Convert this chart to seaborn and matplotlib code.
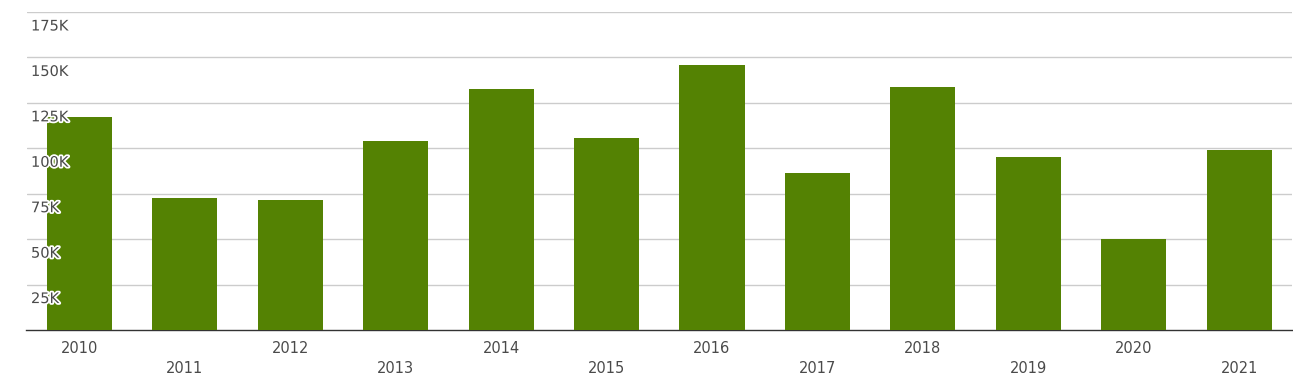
import matplotlib
matplotlib.use("Agg")
import matplotlib.pyplot as plt
import matplotlib.patheffects as pe
import matplotlib.transforms as mtransforms
import seaborn as sns
import pandas as pd

years = ["2010", "2011", "2012", "2013", "2014", "2015", "2016", "2017", "2018", "2019", "2020", "2021"]
values = [117400, 72700, 71600, 104100, 132800, 105800, 146000, 86500, 133900, 95300, 50200, 99100]
yticks = [25000, 50000, 75000, 100000, 125000, 150000, 175000]
ytick_labels = ["25K", "50K", "75K", "100K", "125K", "150K", "175K"]

df = pd.DataFrame({"year": years, "value": values})

sns.set_theme(style="white")
plt.rcParams['font.family'] = ['DejaVu Sans']

fig = plt.figure(figsize=(12.93, 3.84), dpi=100)
ax = fig.add_axes([26.5/1293, 1 - 330/384, (1292-26.5)/1293, (330-12)/384])

sns.barplot(data=df, x="year", y="value", color="#548203", saturation=1,
            width=0.617, linewidth=0, edgecolor="none", ax=ax, zorder=3)

ax.set_xlim(-0.5, len(years) - 0.5)
ax.set_ylim(0, 175000)
ax.set_yticks(yticks)
ax.set_yticklabels([])
ax.tick_params(axis="y", length=0)
ax.yaxis.grid(True, color="#cccccc", linewidth=1, zorder=0)
ax.set_axisbelow(True)
for s in ["top", "right", "left"]:
    ax.spines[s].set_visible(False)
ax.spines["bottom"].set_color("#333333")
ax.spines["bottom"].set_linewidth(1)
ax.set_xlabel("")
ax.set_ylabel("")

# y labels inside the plot, just below each gridline
trans = mtransforms.blended_transform_factory(ax.transAxes, ax.transData)
offset = mtransforms.ScaledTranslation(0, -6.5/100, fig.dpi_scale_trans)
for v, lab in zip(yticks, ytick_labels):
    ax.text(4.5/1266, v, lab, transform=trans + offset, ha="left", va="top",
            fontsize=10.5, color="#4a4a4a", zorder=5,
            path_effects=[pe.withStroke(linewidth=2.5, foreground="white")])

# staggered x labels
ax.set_xticks(range(len(years)))
ax.set_xticklabels([])
ax.tick_params(axis="x", length=0)
xtrans = mtransforms.blended_transform_factory(ax.transData, ax.transAxes)
for i, y in enumerate(years):
    dy = -11/318 if i % 2 == 0 else -31/318
    ax.text(i, dy, y, transform=xtrans, ha="center", va="top",
            fontsize=10.5, color="#4a4a4a")

fig.savefig("out.png", dpi=100)
